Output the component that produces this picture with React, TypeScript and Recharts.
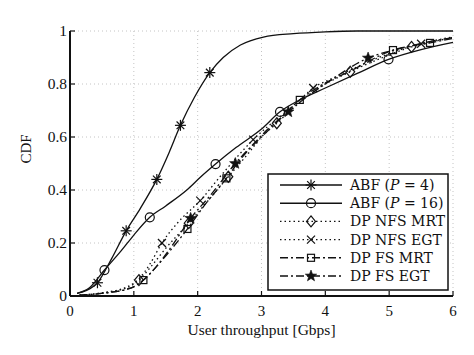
import React from 'react';
import { CartesianGrid, Legend, Line, LineChart, XAxis, YAxis } from 'recharts';

const X_TICKS = [0, 1, 2, 3, 4, 5, 6];
const Y_TICKS = [0, 0.2, 0.4, 0.6, 0.8, 1];

// ABF (P = 4)
const abf4X = [0.11, 0.25, 0.43, 0.65, 0.88, 1.1, 1.36, 1.55, 1.73, 1.95, 2.19, 2.4, 2.67, 3.03, 3.5, 4.0, 4.5, 6.0];
const abf4Y = [0.01, 0.02, 0.05, 0.14, 0.246, 0.33, 0.44, 0.54, 0.644, 0.75, 0.843, 0.9, 0.947, 0.977, 0.99, 0.997, 1, 1];
const abf4Marks = [0.43, 0.88, 1.36, 1.73, 2.19];

// ABF (P = 16)
const abf16X = [0.11, 0.3, 0.54, 0.8, 1.0, 1.25, 1.5, 1.83, 2.05, 2.28, 2.6, 3.0, 3.29, 3.6, 4.0, 4.5, 4.99, 5.5, 6.0];
const abf16Y = [0.01, 0.03, 0.098, 0.17, 0.23, 0.297, 0.34, 0.4, 0.45, 0.498, 0.56, 0.63, 0.695, 0.74, 0.785, 0.84, 0.893, 0.93, 0.957];
const abf16Marks = [0.54, 1.25, 2.28, 3.29, 4.99];

// DP NFS MRT
const nfsMrtX = [0.15, 0.5, 0.9, 1.08, 1.3, 1.5, 1.86, 2.2, 2.48, 2.8, 3.0, 3.24, 3.5, 3.8, 4.39, 4.9, 5.35, 5.7, 6.0];
const nfsMrtY = [0.003, 0.011, 0.032, 0.06, 0.12, 0.18, 0.275, 0.37, 0.45, 0.54, 0.6, 0.652, 0.71, 0.77, 0.846, 0.9, 0.94, 0.96, 0.976];
const nfsMrtMarks = [1.08, 1.86, 2.48, 3.24, 4.39, 5.35];

// DP NFS EGT
const nfsEgtX = [0.15, 0.5, 0.9, 1.1, 1.25, 1.44, 1.7, 2.04, 2.35, 2.6, 2.87, 3.1, 3.36, 3.6, 3.81, 4.1, 4.5, 5.0, 5.5, 6.0];
const nfsEgtY = [0.003, 0.012, 0.035, 0.07, 0.12, 0.2, 0.28, 0.36, 0.45, 0.52, 0.59, 0.64, 0.69, 0.74, 0.785, 0.82, 0.865, 0.915, 0.952, 0.978];
const nfsEgtMarks = [1.44, 2.04, 2.87, 3.81, 5.5];

// DP FS MRT
const fsMrtX = [0.15, 0.5, 0.95, 1.15, 1.35, 1.62, 1.84, 2.1, 2.45, 2.72, 3.0, 3.3, 3.6, 3.9, 4.4, 5.06, 5.64, 6.0];
const fsMrtY = [0.003, 0.01, 0.03, 0.06, 0.11, 0.186, 0.253, 0.34, 0.444, 0.53, 0.6, 0.67, 0.74, 0.79, 0.85, 0.928, 0.955, 0.972];
const fsMrtMarks = [1.15, 1.84, 2.45, 3.6, 5.06, 5.64];

// DP FS EGT
const fsEgtX = [0.15, 0.5, 0.95, 1.15, 1.35, 1.6, 1.89, 2.2, 2.59, 2.9, 3.1, 3.42, 3.7, 4.0, 4.67, 5.2, 5.67, 6.0];
const fsEgtY = [0.003, 0.01, 0.03, 0.06, 0.11, 0.19, 0.293, 0.38, 0.5, 0.58, 0.63, 0.695, 0.75, 0.8, 0.898, 0.935, 0.962, 0.975];
const fsEgtMarks = [1.89, 2.59, 3.42, 4.67, 5.88];

const FONT = '"Liberation Serif", "DejaVu Serif", serif';
const LEGEND_FONT = '"DejaVu Serif", serif';
const INK = '#111';

const build = (xs: number[], ys: number[], marks: number[]) =>
  xs.map((x, i) => ({ x, y: ys[i], m: marks.includes(x) }));

type Shape = 'asterisk' | 'circle' | 'diamond' | 'cross' | 'square' | 'star';

const DOTTED = '1.5 3';
const DASHDOT = '8 3 2 3';

const series: { name: string; shape: Shape; dash?: string; data: { x: number; y: number; m: boolean }[] }[] = [
  { name: 'abf4', shape: 'asterisk', data: build(abf4X, abf4Y, abf4Marks) },
  { name: 'abf16', shape: 'circle', data: build(abf16X, abf16Y, abf16Marks) },
  { name: 'nfsMrt', shape: 'diamond', dash: DOTTED, data: build(nfsMrtX, nfsMrtY, nfsMrtMarks) },
  { name: 'nfsEgt', shape: 'cross', dash: DOTTED, data: build(nfsEgtX, nfsEgtY, nfsEgtMarks) },
  { name: 'fsMrt', shape: 'square', dash: DASHDOT, data: build(fsMrtX, fsMrtY, fsMrtMarks) },
  { name: 'fsEgt', shape: 'star', dash: DASHDOT, data: build(fsEgtX, fsEgtY, fsEgtMarks) },
];

function Marker({ shape, cx, cy }: { shape: Shape; cx: number; cy: number }) {
  const s = { stroke: INK, strokeWidth: 1.2, fill: 'none' };
  switch (shape) {
    case 'asterisk': {
      const r = 5.5;
      return (
        <g {...s}>
          <line x1={cx - r} y1={cy} x2={cx + r} y2={cy} />
          <line x1={cx} y1={cy - r} x2={cx} y2={cy + r} />
          <line x1={cx - r * 0.7} y1={cy - r * 0.7} x2={cx + r * 0.7} y2={cy + r * 0.7} />
          <line x1={cx - r * 0.7} y1={cy + r * 0.7} x2={cx + r * 0.7} y2={cy - r * 0.7} />
        </g>
      );
    }
    case 'circle':
      return <circle cx={cx} cy={cy} r={4.5} {...s} />;
    case 'diamond':
      return <polygon points={`${cx},${cy - 5.5} ${cx + 4.5},${cy} ${cx},${cy + 5.5} ${cx - 4.5},${cy}`} {...s} />;
    case 'cross':
      return (
        <g {...s}>
          <line x1={cx - 4} y1={cy - 4} x2={cx + 4} y2={cy + 4} />
          <line x1={cx - 4} y1={cy + 4} x2={cx + 4} y2={cy - 4} />
        </g>
      );
    case 'square':
      return <rect x={cx - 3.5} y={cy - 3.5} width={7} height={7} {...s} />;
    case 'star': {
      const pts: string[] = [];
      for (let i = 0; i < 10; i++) {
        const r = i % 2 === 0 ? 6 : 2.5;
        const a = -Math.PI / 2 + (i * Math.PI) / 5;
        pts.push(`${cx + r * Math.cos(a)},${cy + r * Math.sin(a)}`);
      }
      return <polygon points={pts.join(' ')} fill={INK} stroke={INK} strokeWidth={0.6} />;
    }
  }
  return null;
}

const makeDot = (shape: Shape) => (props: any) =>
  props.payload && props.payload.m ? (
    <Marker key={props.index} shape={shape} cx={props.cx} cy={props.cy} />
  ) : (
    <g key={props.index} />
  );

const fmtY = (v: number) => (v === 0 || v === 1 ? String(v) : v.toFixed(1));

const BottomTick = (props: any) => {
  const { x, y, payload } = props;
  return (
    <g>
      <line x1={x} y1={y} x2={x} y2={y - 5} stroke={INK} strokeWidth={1.2} />
      <text x={x} y={y + 20} textAnchor="middle" fontFamily={FONT} fontSize={15} fill={INK}>
        {payload.value}
      </text>
    </g>
  );
};

const LeftTick = (props: any) => {
  const { x, y, payload } = props;
  return (
    <g>
      <line x1={x} y1={y} x2={x + 5} y2={y} stroke={INK} strokeWidth={1.2} />
      <text x={x - 3} y={y + 5} textAnchor="end" fontFamily={FONT} fontSize={15.5} fill={INK}>
        {fmtY(payload.value)}
      </text>
    </g>
  );
};

const TopTick = (props: any) => (
  <line x1={props.x} y1={props.y} x2={props.x} y2={props.y + 5} stroke={INK} strokeWidth={1.2} />
);

const RightTick = (props: any) => (
  <line x1={props.x} y1={props.y} x2={props.x - 5} y2={props.y} stroke={INK} strokeWidth={1.2} />
);

const legendRows: { shape: Shape; dash?: string; label: React.ReactNode }[] = [
  { shape: 'asterisk', label: <>ABF (<tspan fontStyle="italic">P</tspan> = 4)</> },
  { shape: 'circle', label: <>ABF (<tspan fontStyle="italic">P</tspan> = 16)</> },
  { shape: 'diamond', dash: DOTTED, label: 'DP NFS MRT' },
  { shape: 'cross', dash: DOTTED, label: 'DP NFS EGT' },
  { shape: 'square', dash: DASHDOT, label: 'DP FS MRT' },
  { shape: 'star', dash: DASHDOT, label: 'DP FS EGT' },
];

const renderLegend = () => (
  <svg width={182} height={118} style={{ display: 'block' }}>
    <rect x={1} y={1} width={180} height={116} fill="#fff" stroke={INK} strokeWidth={1.5} />
    {legendRows.map((r, i) => {
      const cy = 12 + i * 18.2;
      return (
        <g key={i}>
          <line x1={13} y1={cy} x2={75} y2={cy} stroke={INK} strokeWidth={1.4} strokeDasharray={r.dash} />
          <Marker shape={r.shape} cx={44} cy={cy} />
          <text x={83} y={cy + 5} fontFamily={LEGEND_FONT} fontSize={14} fill={INK}>
            {r.label}
          </text>
        </g>
      );
    })}
  </svg>
);

export default function App() {
  return (
    <div style={{ position: 'absolute', left: 0, top: 0, width: 474, height: 355, background: '#fff' }}>
      <LineChart width={474} height={355} margin={{ top: 31, right: 21, left: 0, bottom: 19 }}>
        <CartesianGrid xAxisId="b" yAxisId="l" stroke="#c4c4c4" strokeDasharray="1 3" />
        <XAxis
          xAxisId="b"
          dataKey="x"
          type="number"
          domain={[0, 6]}
          ticks={X_TICKS}
          height={40}
          tickSize={0}
          tickMargin={0}
          tick={BottomTick}
          stroke={INK}
          strokeWidth={2}
          label={{ value: 'User throughput [Gbps]', position: 'insideBottom', offset: 1, fontFamily: FONT, fontSize: 15.5, fill: INK }}
        />
        <XAxis
          xAxisId="t"
          dataKey="x"
          orientation="top"
          type="number"
          domain={[0, 6]}
          ticks={X_TICKS}
          height={0}
          tickSize={0}
          tick={TopTick}
          stroke={INK}
          strokeWidth={1.5}
        />
        <YAxis
          yAxisId="l"
          type="number"
          domain={[0, 1]}
          ticks={Y_TICKS}
          width={70}
          tickSize={0}
          tickMargin={0}
          tick={LeftTick}
          stroke={INK}
          strokeWidth={2}
          label={{ value: 'CDF', angle: -90, position: 'insideLeft', offset: 26, fontFamily: FONT, fontSize: 15, fill: INK }}
        />
        <YAxis
          yAxisId="r"
          orientation="right"
          type="number"
          domain={[0, 1]}
          ticks={Y_TICKS}
          width={0}
          tickSize={0}
          tick={RightTick}
          stroke={INK}
          strokeWidth={1.5}
        />
        {series.map((s) => (
          <Line
            key={s.name}
            xAxisId="b"
            yAxisId="l"
            data={s.data}
            dataKey="y"
            type="monotone"
            stroke={INK}
            strokeWidth={1.3}
            strokeDasharray={s.dash}
            dot={makeDot(s.shape)}
            activeDot={false}
            isAnimationActive={false}
          />
        ))}
        <Legend
          layout="vertical"
          align="center"
          verticalAlign="middle"
          content={renderLegend}
          wrapperStyle={{ position: 'absolute', left: 267, top: 173, width: 182, height: 118 }}
        />
      </LineChart>
    </div>
  );
}
